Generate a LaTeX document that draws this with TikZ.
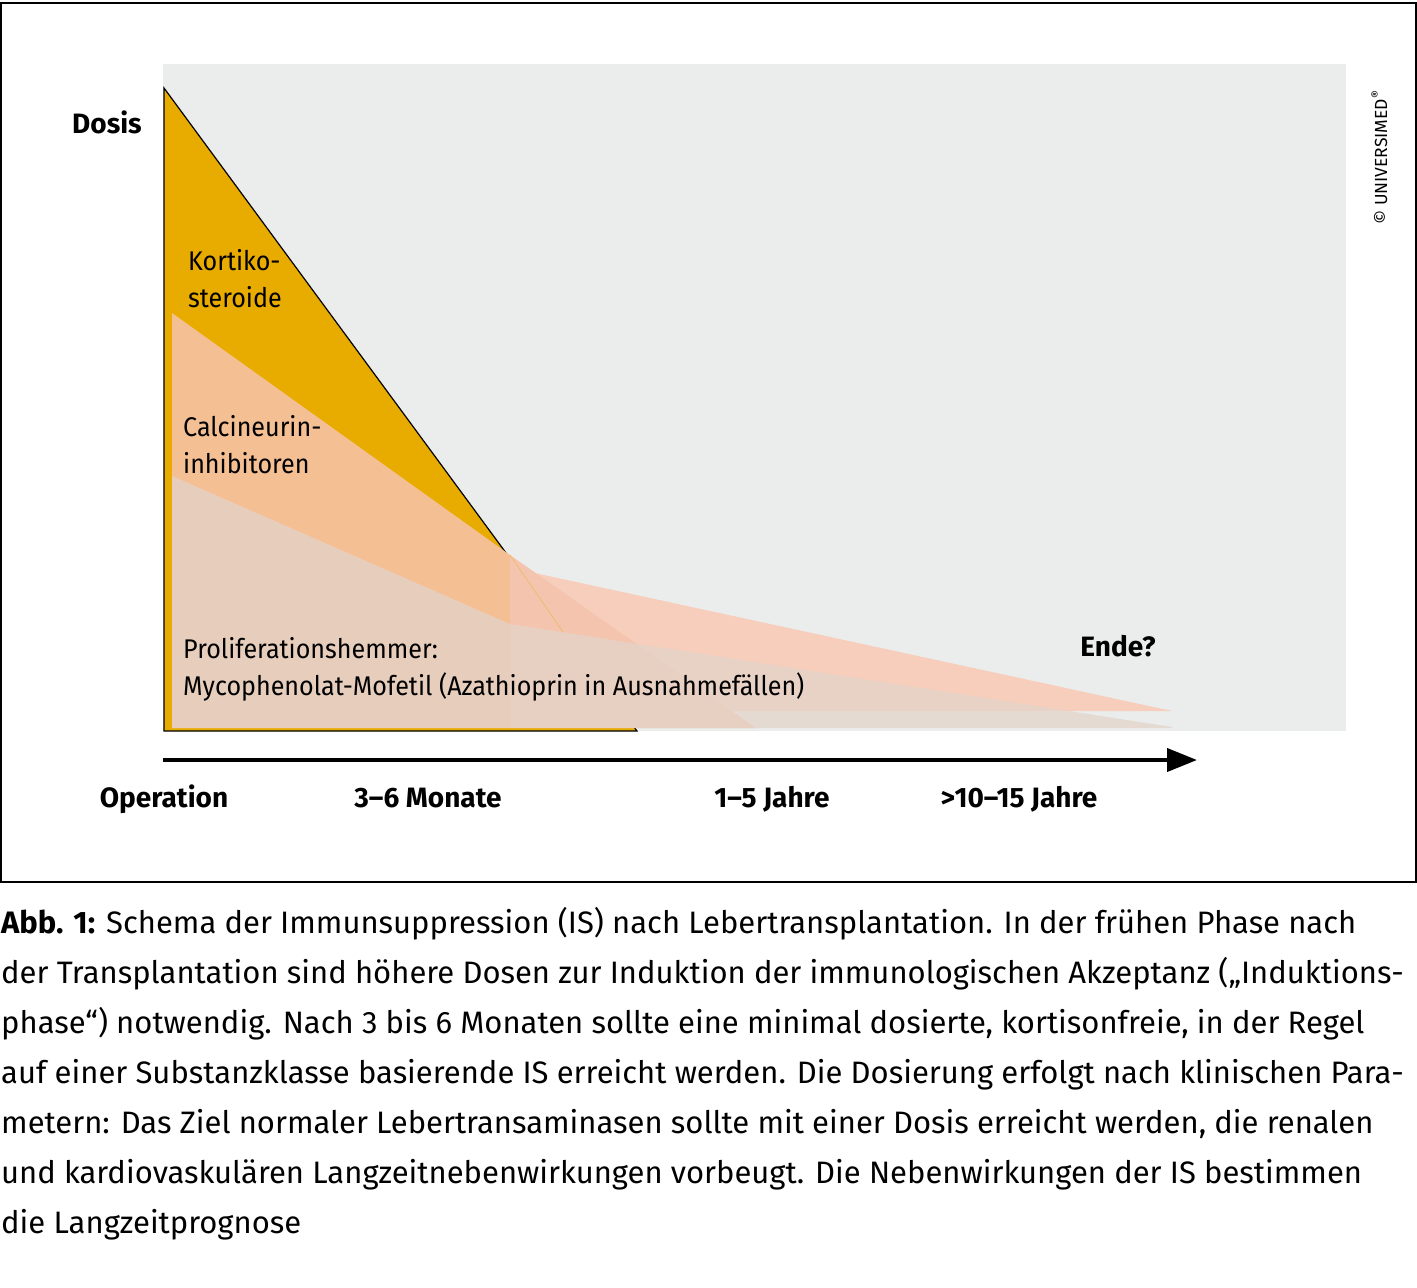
\documentclass[tikz,border=0pt]{standalone}
\usepackage{fontspec}
\setmainfont{Fira Sans}
\newfontfamily\schmal{Fira Sans}[FakeStretch=0.93]
\usetikzlibrary{arrows.meta}
\definecolor{hgrund}{HTML}{EBEDEC}
\definecolor{kortiko}{HTML}{E8AB00}
\definecolor{cni}{HTML}{F5BF94}
\definecolor{cnirest}{HTML}{F7CDBB}
\definecolor{cnisteil}{HTML}{F5C4AE}
\definecolor{mmf}{HTML}{E3D4CA}
\tikzset{
  lbl/.style={inner sep=0pt, anchor=base west, font=\schmal\fontsize{27}{37}\selectfont, align=left},
  achse/.style={inner sep=0pt, anchor=base, font=\fontsize{28}{30}\selectfont\bfseries},
}
\begin{document}
\begin{tikzpicture}[x=1pt,y=-1pt]
\useasboundingbox (0,0) rectangle (1417,1288);
\draw[line width=1.2pt] (1,3) rectangle (1416,882);
\fill[hgrund] (163,64) rectangle (1346,731);
% Kortikosteroide
\filldraw[fill=kortiko, line width=1.2pt] (164,88) -- (637,731) -- (164,731) -- cycle;
% Calcineurininhibitoren
\fill[cnirest] (505,552) -- (530,572) -- (1172,711) -- (505,711) -- cycle;
\fill[cni] (172,313) -- (510,555) -- (510,728) -- (172,728) -- cycle;
\fill[cnisteil] (510,555) -- (756,728) -- (510,728) -- cycle;
\draw[kortiko!35!cnisteil, line width=0.8pt] (510,555) -- (563,632);
% Proliferationshemmer
\fill[mmf, opacity=0.75] (172,476) -- (510,624) -- (1172,727) -- (1172,728) -- (172,728) -- cycle;
% Zeitachse
\coordinate (start) at (163,760);
\coordinate (ende) at (1197,760);
\draw[line width=4pt, -{Triangle[length=30pt,width=23pt]}] (start) -- (ende);
\node[achse] (op) at (164,807) {Operation};
\node[achse] (monate) at (428,807) {3–6 Monate};
\node[achse] (jahre) at (772,807) {1–5 Jahre};
\node[achse] (spaet) at (1019,807) {>10–15 Jahre};
\node[achse] (dosis) at (107,133) {Dosis};
\node[achse] (ende?) at (1118,656) {Ende?};
% Beschriftungen
\node[lbl] (kortiko) at (188,307) {Kortiko-\\steroide};
\node[lbl] (cni) at (183,473) {Calcineurin-\\inhibitoren};
\node[lbl] (mmf) at (183,695) {Proliferationshemmer:\\Mycophenolat-Mofetil (Azathioprin in Ausnahmefällen)};
\node[inner sep=0pt, anchor=base west, rotate=90, font=\fontsize{17.5}{18}\selectfont] (copy) at (1387,225) {© UNIVERSIMED\textsuperscript{®}};
% Legende
\node[inner sep=0pt, anchor=base west, align=left, font=\fontsize{31}{50}\selectfont] (legende) at (1,1233)
{\textbf{Abb. 1:} Schema der Immunsuppression (IS) nach Lebertransplantation. In der frühen Phase nach\\
der Transplantation sind höhere Dosen zur Induktion der immunologischen Akzeptanz („Induktions-\\
phase“) notwendig. Nach 3 bis 6 Monaten sollte eine minimal dosierte, kortisonfreie, in der Regel\\
auf einer Substanzklasse basierende IS erreicht werden. Die Dosierung erfolgt nach klinischen Para-\\
metern: Das Ziel normaler Lebertransaminasen sollte mit einer Dosis erreicht werden, die renalen\\
und kardiovaskulären Langzeitnebenwirkungen vorbeugt. Die Nebenwirkungen der IS bestimmen\\
die Langzeitprognose};
\end{tikzpicture}
\end{document}
